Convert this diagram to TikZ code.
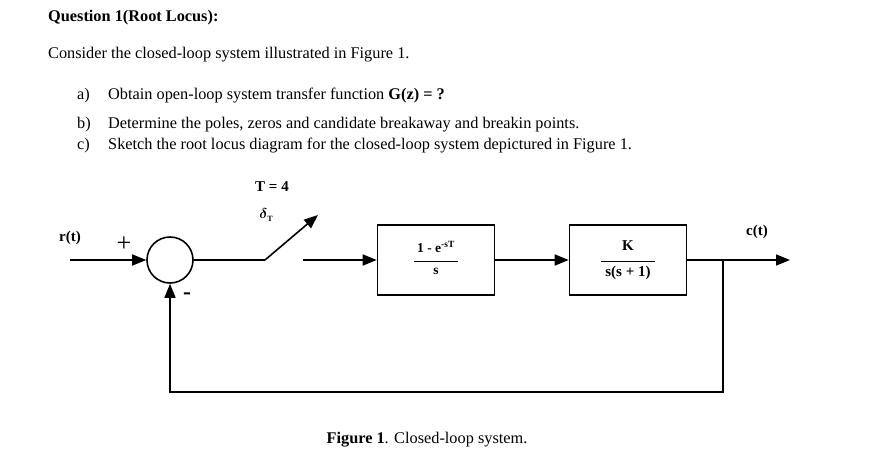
\documentclass[tikz,border=0pt]{standalone}
\usepackage{amsmath}
\usepackage{fontspec}
\setmainfont{Liberation Serif}
\usetikzlibrary{arrows.meta}
\begin{document}
\begin{tikzpicture}[x=1pt,y=-1pt,
    txt/.style={inner sep=0pt,anchor=west,font=\fontsize{16.3}{19}\selectfont},
    lbl/.style={inner sep=0pt,font=\fontsize{15}{17}\selectfont\bfseries},
    blk/.style={draw,line width=1.6pt,minimum width=117pt,minimum height=70pt,inner sep=0pt},
    sig/.style={line width=1.6pt,-{Triangle[length=14pt,width=11pt]}},
    wire/.style={line width=1.6pt}]
  \useasboundingbox (0,0) rectangle (872,463);
  % text
  \node[txt,font=\fontsize{16.3}{19}\selectfont\bfseries] (q) at (48,18) {Question 1(Root Locus):};
  \node[txt] (c) at (48,55) {Consider the closed-loop system illustrated in Figure 1.};
  \node[txt] (a1) at (77,96) {a)};
  \node[txt] (a2) at (108,96) {Obtain open-loop system transfer function \textbf{G(z) = ?}};
  \node[txt] (b1) at (77,125) {b)};
  \node[txt] (b2) at (108,125) {Determine the poles, zeros and candidate breakaway and breakin points.};
  \node[txt] (c1) at (77,146) {c)};
  \node[txt] (c2) at (108,146) {Sketch the root locus diagram for the closed-loop system depictured in Figure 1.};
  % diagram
  \node[lbl] (T) at (272,187) {T = 4};
  \node[lbl] (d) at (266,215) {$\boldsymbol{\delta}$\raisebox{-3pt}{\fontsize{8}{9}\selectfont T}};
  \node[lbl] (r) at (70,238) {r(t)};
  \node[inner sep=0pt,font=\fontsize{26}{26}\selectfont] (plus) at (124,244) {+};
  \node[inner sep=0pt,font=\fontsize{24}{24}\selectfont\bfseries] (minus) at (187,296) {-};
  \node[lbl] (ct) at (757,232) {c(t)};
  \node[draw,circle,line width=1.6pt,minimum size=46pt,inner sep=0pt] (sum) at (170,260) {};
  \node[blk,font=\fontsize{13.5}{15}\selectfont\bfseries] (g1) at (436,260)
    {\begin{tabular}{@{}c@{}}1 - e\textsuperscript{-sT}\\[-6pt]\rule{44pt}{0.9pt}\\[-2pt] s\end{tabular}};
  \node[blk,font=\fontsize{15}{17}\selectfont\bfseries] (g2) at (628,260)
    {\begin{tabular}{@{}c@{}}K\\[-6pt]\rule{54pt}{0.9pt}\\[-2pt] s(s + 1)\end{tabular}};
  \coordinate (in) at (70,260);
  \coordinate (sw1) at (265,260);
  \coordinate (sw2) at (318,215);
  \coordinate (sw3) at (303,260);
  \coordinate (br) at (723,260);
  \coordinate (out) at (790,260);
  \coordinate (fb1) at (723,392);
  \coordinate (fb2) at (170,392);
  \draw[sig] (in) -- (sum.west);
  \draw[wire] (sum.east) -- (sw1);
  \draw[sig] (sw1) -- (sw2);
  \draw[sig] (sw3) -- (g1.west);
  \draw[sig] (g1.east) -- (g2.west);
  \draw[sig] (g2.east) -- (out);
  \draw[sig] (br) -- (fb1) -- (fb2) -- (sum.south);
  \node[inner sep=0pt,font=\fontsize{16.3}{19}\selectfont] (fig) at (427,440) {\textbf{Figure 1}. Closed-loop system.};
\end{tikzpicture}
\end{document}
